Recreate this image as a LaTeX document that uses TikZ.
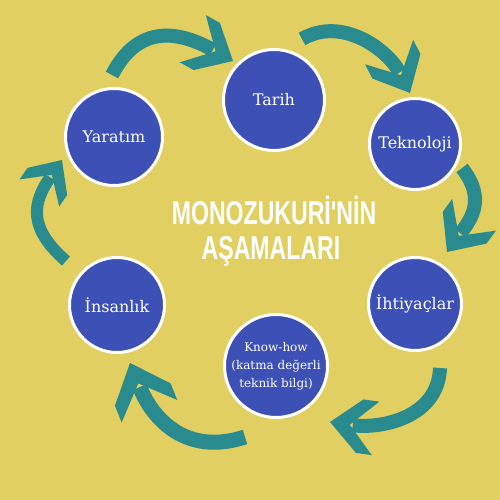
\documentclass[tikz,border=0pt]{standalone}
\usepackage{fontspec}
\newfontfamily\titlefont[FakeStretch=0.7]{Liberation Sans}
\newfontfamily\cfont{DejaVu Serif}
\definecolor{bg}{HTML}{E2CF62}
\definecolor{cblue}{HTML}{3D50B5}
\definecolor{arrteal}{HTML}{2A8B8F}
% chevron arrow head: name, L, W, B, N, E
\newcommand\defchev[6]{%
\pgfdeclarearrow{name=#1,
 setup code={\pgfarrowssettipend{0pt}\pgfarrowssetbackend{-#4pt}\pgfarrowssetlineend{-#6pt}},
 drawing code={\pgfpathmoveto{\pgfqpoint{0pt}{0pt}}%
  \pgfpathlineto{\pgfqpoint{-#2pt}{#3pt}}%
  \pgfpathlineto{\pgfqpoint{-#4pt}{#3pt}}%
  \pgfpathlineto{\pgfqpoint{-#5pt}{0pt}}%
  \pgfpathlineto{\pgfqpoint{-#4pt}{-#3pt}}%
  \pgfpathlineto{\pgfqpoint{-#2pt}{-#3pt}}%
  \pgfpathclose\pgfusepathqfill},
 defaults={}}}
\defchev{ChevM}{30}{27}{46}{20}{23}
\defchev{ChevL}{34}{30}{52}{22}{26}
\defchev{ChevS}{26}{24}{40}{18}{21}
\begin{document}
\begin{tikzpicture}[x=1pt,y=1pt,
  stage/.style={circle,fill=cblue,draw=white,line width=3pt,inner sep=0pt,
    text=white,font=\cfont\fontsize{16}{19}\selectfont},
  cyc/.style={arrteal,line width=14pt},
  ttl/.style={text=white,anchor=base,inner sep=0pt,
    font=\titlefont\bfseries\fontsize{33}{35}\selectfont}]
\fill[bg] (0,0) rectangle (500,500);
\useasboundingbox (0,0) rectangle (500,500);
% stages
\node[stage,minimum size=101pt] (tarih) at (274,400) {Tarih};
\node[stage,minimum size=91pt] (tek) at (415,356) {Teknoloji};
\node[stage,minimum size=93pt] (iht) at (415,196) {İhtiyaçlar};
\node[stage,minimum size=103pt,align=center,font=\cfont\fontsize{12}{18}\selectfont] (know) at (276,134) {Know-how\\(katma değerli\\teknik bilgi)};
\node[stage,minimum size=95pt] (ins) at (117,195) {İnsanlık};
\node[stage,minimum size=97pt] (yar) at (114,363) {Yaratım};
% title
\node[ttl] (t1) at (274,275) {MONOZUKURİ'NİN};
\node[ttl] (t2) at (271,240) {AŞAMALARI};
% arrow ends
\coordinate (a1) at (112,425); \coordinate (b1) at (233,439);
\coordinate (a2) at (302,461); \coordinate (b2) at (410,407);
\coordinate (a3) at (462,332); \coordinate (b3) at (447,248);
\coordinate (a4) at (440,132); \coordinate (b4) at (330,78);
\coordinate (a5) at (245,63);  \coordinate (b5) at (130,137);
\coordinate (a6) at (66,239);  \coordinate (b6) at (62,340);
\draw[cyc,-ChevM] (a1) to[out=63,in=151,looseness=1.25] (b1);
\draw[cyc,-ChevM] (a2) to[out=30,in=117,looseness=1] (b2);
\draw[cyc,-ChevM] (a3) to[out=-52,in=54,looseness=1.2] (b3);
\draw[cyc,-ChevM] (a4) to[out=-92,in=-8,looseness=1.05] (b4);
\draw[cyc,line width=15pt,-ChevL] (a5) to[out=198,in=-68,looseness=1.15] (b5);
\draw[cyc,line width=12pt,-ChevS] (a6) to[out=139,in=235.6,looseness=1.3] (b6);
\end{tikzpicture}
\end{document}
